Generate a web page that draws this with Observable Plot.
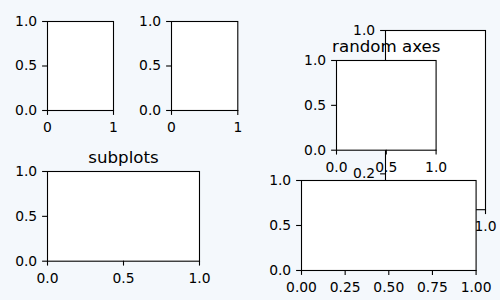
<!DOCTYPE html>
<html><head><meta charset="utf-8">
<script src="https://cdn.jsdelivr.net/npm/d3@7"></script>
<script src="https://cdn.jsdelivr.net/npm/@observablehq/plot@0.6"></script>
<style>
html,body{margin:0;padding:0;background:#f4f8fc;}
#fig{position:relative;width:500px;height:300px;overflow:hidden;background:#f4f8fc;}
#fig svg{position:absolute;}
</style></head><body><div id="fig"></div>
<script>
// Tick values and labels
const ticksUnit = [0, 1];
const labelsUnit = ["0", "1"];
const ticksHalf = [0, 0.5, 1];
const labelsHalf = ["0.0", "0.5", "1.0"];
const ticksQuarter = [0, 0.25, 0.5, 0.75, 1];
const labelsQuarter = ["0.00", "0.25", "0.50", "0.75", "1.00"];
const ticksFifth = [0, 0.2, 0.4, 0.6, 0.8, 1];
const labelsFifth = ["0.0", "0.2", "0.4", "0.6", "0.8", "1.0"];
const titles = ["subplots", "random axes"];
const axisDomain = [0, 1];

// Layout (frame boxes in pixels), drawn in this order
const panels = [
  {box: [47.3, 21, 113.3, 110], xt: ticksUnit, xl: labelsUnit, yt: ticksHalf, yl: labelsHalf},
  {box: [171, 21, 237.3, 110], xt: ticksUnit, xl: labelsUnit, yt: ticksHalf, yl: labelsHalf},
  {box: [47.3, 171.3, 199.3, 261], xt: ticksHalf, xl: labelsHalf, yt: ticksHalf, yl: labelsHalf, title: titles[0]},
  {box: [385.3, 30.3, 485.3, 209.5], xt: ticksFifth, xl: labelsFifth, yt: ticksFifth, yl: labelsFifth},
  {box: [335.7, 60.3, 435.3, 150], xt: ticksHalf, xl: labelsHalf, yt: ticksHalf, yl: labelsHalf, title: titles[1]},
  {box: [300.7, 180.3, 475.3, 270.3], xt: ticksQuarter, xl: labelsQuarter, yt: ticksHalf, yl: labelsHalf}
];

const fig = document.getElementById("fig");
const M = 45;
for (const p of panels) {
  const [x0, y0, x1, y1] = p.box;
  const w = x1 - x0, h = y1 - y0;
  const marks = [
    Plot.frame({fill: "white", stroke: "black", strokeWidth: 1.1}),
    Plot.axisX({ticks: p.xt, tickFormat: d => p.xl[p.xt.indexOf(d)], label: null, tickSize: 4.9, tickPadding: 6.6, strokeWidth: 1.1}),
    Plot.axisY({ticks: p.yt, tickFormat: d => p.yl[p.yt.indexOf(d)], label: null, tickSize: 4.9, tickPadding: 5.4, strokeWidth: 1.1})
  ];
  if (p.title) marks.push(Plot.text([p.title], {frameAnchor: "top", dy: -8.3, lineAnchor: "bottom", fontSize: 16.67}));
  const chart = Plot.plot({
    width: w + 2 * M, height: h + 2 * M,
    marginLeft: M, marginRight: M, marginTop: M, marginBottom: M,
    x: {domain: axisDomain}, y: {domain: axisDomain},
    style: {fontFamily: "DejaVu Sans", fontSize: "13.9px", color: "black", background: "transparent", overflow: "visible"},
    marks
  });
  chart.style.left = (x0 - M) + "px";
  chart.style.top = (y0 - M) + "px";
  fig.appendChild(chart);
}
</script>
</body></html>
